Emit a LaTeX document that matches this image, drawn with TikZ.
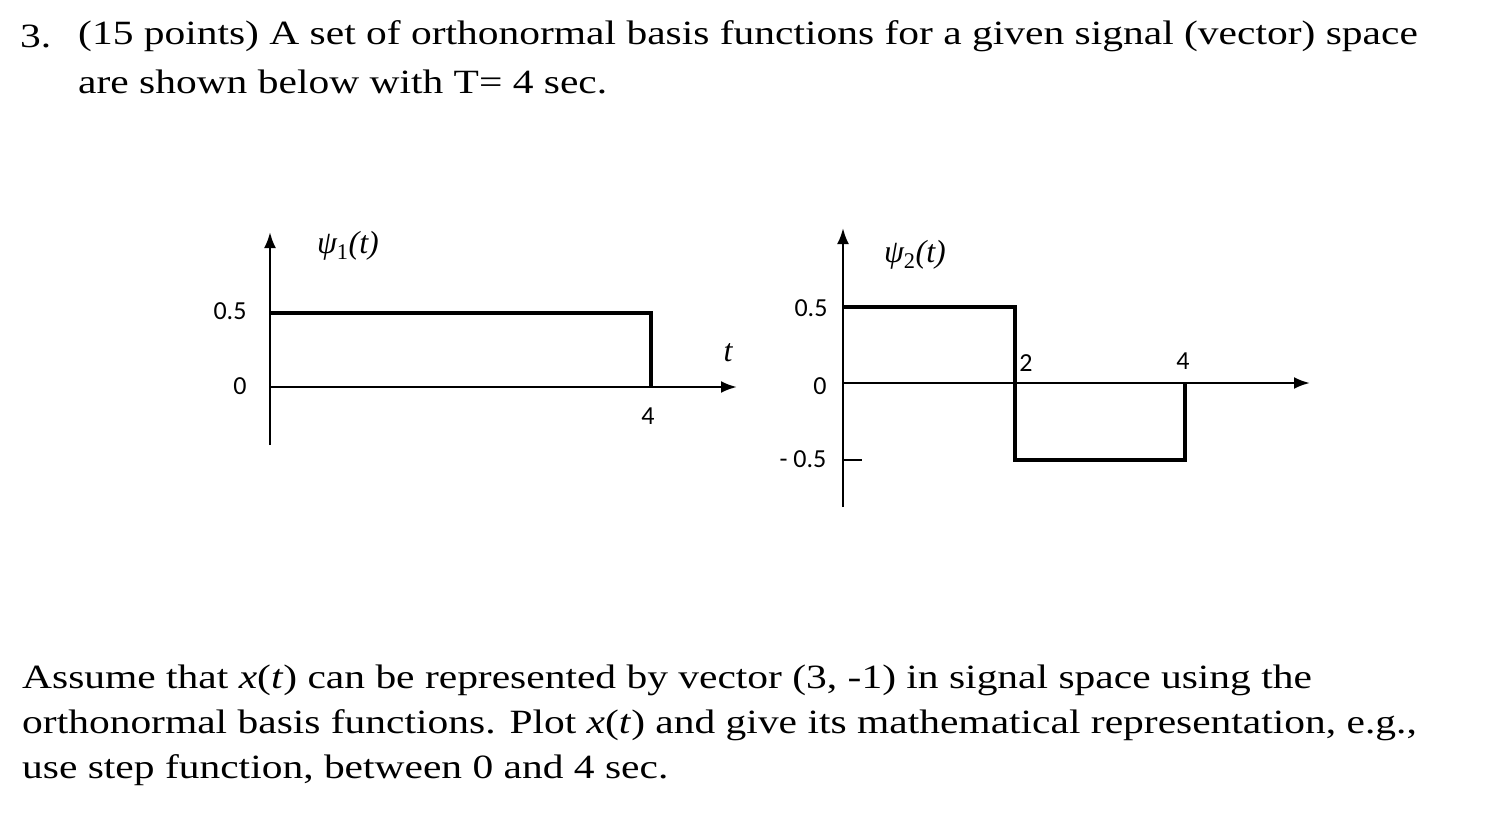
\documentclass[tikz,border=0pt]{standalone}
\usepackage{fontspec}
\setmainfont{Liberation Serif}[FakeStretch=1.22]
\newfontfamily\lab{Carlito}
\newfontfamily\gk{Liberation Serif}
\usetikzlibrary{arrows.meta}
\begin{document}
\begin{tikzpicture}[x=1pt,y=-1pt,
  ax/.style={line width=2.6pt,-{Latex[length=16pt,width=12pt]}},
  sig/.style={line width=3.2pt},
  lb/.style={font=\lab\fontsize{26}{30}\selectfont},
  sy/.style={font=\gk\fontsize{32}{36}\selectfont},
  tx/.style={font=\fontsize{34}{40}\selectfont,anchor=west,inner sep=0}]
\useasboundingbox (0,0) rectangle (1489,835);
\node[tx] (n3) at (20,36) {3.};
\node[tx] (h1) at (78,36) {(15 points) A set of orthonormal basis functions for a given signal (vector) space};
\node[tx] (h2) at (78,82) {are shown below with T= 4 sec.};
% plot 1
\coordinate (a1b) at (270,445); \coordinate (a1t) at (270,232);
\coordinate (x1l) at (270,387); \coordinate (x1r) at (737,387);
\draw[ax] (a1b) -- (a1t);
\draw[ax] (x1l) -- (x1r);
\draw[sig] (270,313) -- (651,313) -- (651,387);
\node[lb] (p1) at (230,311) {0.5};
\node[lb] (z1) at (240,386) {0};
\node[lb] (f1) at (648,416) {4};
\node[sy] (t1) at (728,353) {\itshape t};
\node[sy] (s1) at (348,246) {\itshape ψ\textsubscript{\upshape 1}(t)};
% plot 2
\coordinate (a2b) at (843,507); \coordinate (a2t) at (843,228);
\coordinate (x2l) at (843,383); \coordinate (x2r) at (1310,383);
\draw[ax] (a2b) -- (a2t);
\draw[ax] (x2l) -- (x2r);
\draw[sig] (843,307) -- (1015,307) -- (1015,460) -- (1185,460) -- (1185,383);
\draw[line width=1.5pt] (843,460) -- (862,460);
\node[lb] (p2) at (811,308) {0.5};
\node[lb] (z2) at (820,386) {0};
\node[lb] (m2) at (803,459) {- 0.5};
\node[lb] (t2) at (1026,363) {2};
\node[lb] (f2) at (1183,361) {4};
\node[sy] (s2) at (915,255) {\itshape ψ\textsubscript{\upshape 2}(t)};
% bottom
\node[tx] (b1) at (22,680) {Assume that \textit{x}(\textit{t}) can be represented by vector (3, -1) in signal space using the};
\node[tx] (b2) at (22,725) {orthonormal basis functions. Plot \textit{x}(\textit{t}) and give its mathematical representation, e.g.,};
\node[tx] (b3) at (22,770) {use step function, between 0 and 4 sec.};
\end{tikzpicture}
\end{document}
